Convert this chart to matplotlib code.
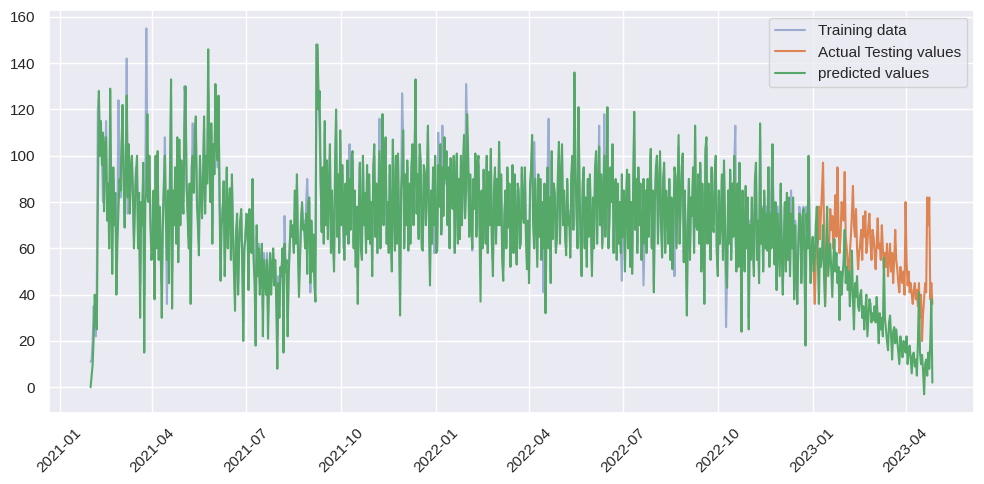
import matplotlib
matplotlib.use("Agg")
import matplotlib.pyplot as plt
import matplotlib.dates as mdates
import seaborn as sns
import pandas as pd

train_start = "2021-01-31"
test_start = "2023-01-01"

training_values = [
    11, 12, 20, 35, 28, 22, 42, 120, 125, 105,
    112, 100, 80, 108, 95, 115, 78, 82, 70, 118,
    85, 55, 90, 75, 80, 60, 72, 124, 95, 82,
    100, 115, 92, 75, 90, 142, 75, 100, 80, 90,
    98, 80, 65, 85, 95, 92, 65, 80, 45, 75,
    78, 90, 40, 85, 155, 105, 85, 95, 75, 60,
    65, 80, 50, 95, 65, 98, 60, 75, 55, 45,
    75, 85, 108, 70, 36, 80, 55, 95, 125, 50,
    80, 75, 90, 65, 105, 60, 100, 75, 95, 85,
    80, 130, 125, 85, 78, 65, 85, 50, 90, 114,
    88, 105, 112, 85, 75, 62, 95, 88, 78, 92,
    112, 80, 98, 90, 128, 105, 85, 110, 70, 100,
    95, 125, 110, 95, 120, 85, 55, 75, 78, 85,
    55, 72, 90, 65, 80, 82, 60, 88, 70, 55,
    40, 68, 72, 45, 62, 70, 75, 58, 28, 58,
    66, 72, 70, 48, 75, 65, 60, 85, 58, 50,
    30, 65, 52, 62, 45, 55, 60, 35, 58, 50,
    45, 58, 32, 48, 55, 45, 50, 58, 48, 52,
    40, 22, 48, 35, 50, 50, 58, 25, 74, 52,
    52, 30, 50, 62, 70, 68, 68, 60, 82, 65,
    88, 62, 45, 58, 70, 78, 70, 72, 62, 80,
    90, 75, 80, 41, 70, 55, 64, 48, 60, 148,
    145, 125, 110, 88, 70, 92, 68, 110, 72, 95,
    68, 85, 100, 62, 82, 65, 55, 92, 115, 70,
    88, 62, 106, 75, 92, 60, 60, 85, 70, 95,
    65, 105, 70, 95, 98, 62, 82, 58, 75, 45,
    75, 95, 62, 60, 98, 72, 82, 62, 92, 66,
    88, 65, 78, 55, 92, 100, 68, 85, 58, 82,
    116, 62, 82, 112, 72, 92, 104, 65, 78, 62,
    92, 70, 55, 104, 82, 62, 96, 65, 98, 72,
    40, 82, 127, 108, 62, 90, 72, 95, 62, 85,
    65, 92, 102, 72, 95, 128, 78, 90, 66, 100,
    95, 62, 62, 92, 90, 72, 85, 110, 75, 50,
    82, 65, 92, 58, 96, 60, 62, 110, 80, 102,
    68, 113, 76, 104, 88, 100, 72, 92, 62, 96,
    82, 80, 98, 60, 86, 98, 65, 88, 66, 96,
    72, 92, 106, 75, 131, 112, 98, 68, 90, 72,
    59, 88, 80, 98, 68, 92, 96, 72, 60, 82,
    62, 92, 82, 64, 96, 60, 90, 72, 100, 64,
    55, 82, 92, 64, 88, 72, 102, 72, 90, 58,
    52, 75, 82, 62, 92, 72, 85, 55, 72, 92,
    62, 90, 72, 56, 85, 82, 62, 64, 92, 78,
    73, 92, 68, 55, 70, 50, 85, 92, 104, 72,
    106, 88, 72, 55, 90, 68, 88, 58, 78, 41,
    85, 45, 72, 92, 116, 80, 50, 98, 66, 85,
    82, 60, 66, 90, 102, 65, 88, 100, 72, 82,
    68, 60, 88, 72, 76, 60, 90, 96, 70, 128,
    92, 78, 62, 116, 82, 65, 52, 85, 92, 62,
    80, 56, 88, 68, 90, 70, 52, 80, 62, 92,
    98, 65, 86, 113, 72, 90, 62, 78, 118, 68,
    86, 115, 62, 75, 92, 82, 100, 60, 82, 88,
    58, 85, 65, 78, 60, 46, 68, 82, 55, 78,
    90, 62, 88, 56, 78, 52, 85, 115, 70, 88,
    62, 92, 72, 85, 58, 66, 44, 64, 82, 60,
    88, 68, 85, 100, 62, 82, 45, 78, 92, 96,
    65, 82, 98, 72, 60, 88, 94, 60, 82, 78,
    65, 88, 58, 80, 55, 72, 48, 88, 62, 82,
    104, 65, 78, 92, 98, 58, 82, 62, 38, 72,
    88, 58, 80, 76, 92, 60, 108, 72, 70, 88,
    65, 94, 55, 85, 68, 42, 100, 104, 65, 85,
    80, 58, 92, 72, 70, 88, 97, 60, 52, 82,
    65, 75, 90, 58, 95, 72, 26, 48, 82, 65,
    92, 58, 85, 68, 97, 113, 52, 85, 55, 94,
    72, 32, 82, 72, 52, 84, 62, 80, 30, 72,
    58, 80, 62, 52, 88, 94, 58, 70, 48, 108,
    65, 78, 52, 82, 62, 78, 62, 92, 95, 72,
    62, 102, 72, 56, 78, 45, 78, 65, 52, 85,
    62, 44, 65, 78, 52, 82, 58, 80, 50, 85,
    62, 80, 42, 72, 52, 36, 62, 78, 76, 48,
    72, 78, 58, 25, 78, 62, 96, 65, 50, 62,
]

testing_values = [
    64, 50, 36, 55, 71, 62, 78, 64, 75, 85,
    97, 70, 36, 50, 65, 58, 62, 77, 68, 74,
    60, 70, 83, 65, 95, 70, 58, 65, 80, 77,
    72, 93, 65, 60, 54, 46, 58, 65, 75, 87,
    70, 65, 77, 60, 51, 58, 62, 68, 55, 74,
    65, 76, 58, 62, 70, 75, 62, 55, 68, 65,
    58, 51, 62, 73, 60, 62, 55, 70, 60, 51,
    58, 52, 62, 48, 55, 62, 50, 58, 45, 55,
    68, 55, 51, 45, 41, 52, 48, 45, 50, 40,
    80, 55, 44, 50, 41, 45, 40, 36, 42, 45,
    38, 42, 35, 45, 30, 40, 20, 32, 38, 45,
    41, 82, 70, 82, 38, 45, 36,
]

predicted_values = [
    0, 5, 10, 22, 40, 30, 25, 75, 128, 100,
    115, 96, 110, 76, 105, 108, 72, 88, 60, 129,
    80, 49, 95, 70, 84, 40, 62, 77, 90, 85,
    105, 122, 88, 69, 95, 126, 82, 105, 75, 95,
    100, 85, 60, 78, 92, 100, 60, 84, 30, 80,
    70, 97, 15, 80, 84, 118, 80, 100, 70, 55,
    60, 85, 38, 100, 60, 102, 55, 78, 60, 30,
    70, 88, 100, 72, 55, 85, 45, 92, 133, 34,
    85, 70, 95, 62, 108, 54, 107, 70, 98, 82,
    75, 112, 130, 90, 75, 60, 88, 36, 95, 100,
    84, 110, 117, 80, 70, 57, 100, 85, 73, 90,
    117, 75, 100, 88, 146, 100, 80, 114, 62, 105,
    92, 131, 105, 98, 126, 80, 46, 70, 75, 89,
    48, 70, 95, 60, 78, 86, 55, 92, 66, 50,
    33, 65, 75, 40, 60, 72, 77, 55, 20, 60,
    64, 75, 74, 42, 77, 62, 58, 90, 55, 45,
    18, 70, 48, 60, 40, 50, 62, 22, 55, 48,
    40, 55, 21, 45, 58, 40, 52, 60, 44, 55,
    36, 8, 45, 30, 52, 48, 60, 15, 62, 50,
    55, 22, 48, 60, 72, 65, 70, 58, 85, 62,
    92, 60, 39, 55, 72, 80, 68, 70, 60, 75,
    49, 80, 82, 45, 72, 50, 66, 44, 37, 148,
    148, 120, 128, 90, 67, 95, 62, 115, 70, 98,
    64, 88, 105, 58, 85, 62, 50, 96, 120, 65,
    92, 58, 111, 70, 96, 74, 55, 88, 66, 98,
    62, 90, 68, 100, 102, 60, 85, 52, 78, 36,
    78, 97, 60, 55, 100, 70, 84, 58, 96, 64,
    92, 62, 80, 48, 95, 105, 65, 88, 58, 80,
    102, 60, 85, 118, 70, 95, 108, 62, 80, 58,
    96, 68, 50, 107, 80, 59, 100, 62, 101, 70,
    31, 85, 92, 111, 60, 92, 70, 98, 59, 88,
    62, 95, 105, 70, 98, 133, 75, 92, 64, 105,
    98, 60, 59, 96, 93, 70, 88, 113, 72, 44,
    85, 62, 95, 70, 100, 58, 59, 96, 78, 105,
    66, 95, 74, 108, 90, 102, 70, 95, 60, 99,
    85, 77, 100, 58, 88, 101, 62, 90, 64, 100,
    70, 95, 109, 73, 85, 118, 100, 65, 92, 70,
    60, 90, 77, 101, 65, 96, 100, 70, 37, 85,
    60, 94, 80, 62, 100, 58, 93, 70, 103, 62,
    48, 85, 95, 62, 90, 70, 106, 70, 92, 55,
    46, 72, 85, 60, 95, 69, 88, 52, 70, 96,
    58, 92, 70, 53, 88, 85, 60, 62, 95, 75,
    71, 95, 65, 51, 72, 45, 88, 95, 109, 70,
    60, 90, 70, 52, 92, 65, 90, 55, 80, 60,
    88, 32, 70, 95, 60, 82, 45, 102, 64, 88,
    84, 58, 64, 92, 106, 62, 90, 105, 70, 85,
    65, 57, 90, 70, 74, 56, 92, 100, 68, 136,
    95, 76, 60, 121, 85, 62, 48, 88, 95, 60,
    82, 52, 90, 65, 92, 69, 48, 82, 60, 95,
    102, 62, 88, 104, 70, 92, 60, 80, 100, 65,
    88, 121, 60, 72, 95, 80, 105, 58, 85, 90,
    55, 88, 62, 80, 58, 92, 65, 85, 50, 80,
    94, 60, 92, 52, 80, 49, 88, 119, 68, 90,
    58, 95, 70, 88, 55, 64, 90, 62, 85, 58,
    90, 65, 88, 103, 60, 85, 41, 80, 95, 100,
    62, 85, 102, 70, 56, 90, 97, 58, 85, 77,
    62, 90, 55, 82, 51, 70, 95, 91, 60, 85,
    109, 62, 80, 95, 101, 54, 85, 60, 31, 70,
    90, 55, 82, 74, 95, 58, 113, 70, 68, 92,
    62, 97, 50, 88, 65, 36, 103, 108, 62, 88,
    82, 55, 95, 70, 67, 92, 100, 58, 48, 85,
    62, 72, 92, 55, 98, 70, 50, 43, 85, 62,
    94, 55, 88, 65, 100, 70, 50, 88, 52, 97,
    70, 24, 85, 69, 50, 87, 60, 82, 25, 70,
    55, 82, 60, 48, 90, 97, 55, 72, 45, 114,
    62, 77, 50, 85, 60, 75, 59, 95, 52, 75,
    60, 105, 70, 53, 80, 42, 75, 62, 48, 88,
    60, 40, 63, 80, 50, 84, 55, 82, 48, 75,
    60, 82, 38, 70, 50, 36, 60, 75, 74, 45,
    70, 77, 55, 18, 75, 60, 100, 62, 45, 60,
    65, 50, 56, 70, 78, 55, 36, 60, 52, 58,
    70, 48, 35, 60, 78, 48, 55, 62, 50, 39,
    55, 64, 50, 58, 45, 52, 29, 50, 40, 48,
    55, 68, 45, 52, 42, 50, 35, 45, 59, 38,
    25, 45, 39, 48, 35, 33, 40, 42, 30, 35,
    25, 33, 40, 22, 30, 38, 36, 28, 32, 29,
    35, 28, 39, 30, 19, 32, 25, 30, 22, 56,
    30, 25, 20, 16, 28, 31, 22, 12, 24, 26,
    19, 25, 20, 15, 10, 22, 18, 13, 20, 19,
    15, 22, 10, 16, 18, 12, 6, 14, 15, 9,
    12, 5, 20, 41, 15, 10, 14, 7, -3, 10,
    12, 5, 15, 8, 20, 38, 2,
]

train_dates = pd.date_range(train_start, periods=len(training_values), freq="D")
test_dates = pd.date_range(test_start, periods=len(testing_values), freq="D")
pred_dates = pd.date_range(train_start, periods=len(predicted_values), freq="D")

sns.set_theme()
plt.rcParams['font.family'] = ['Liberation Sans', 'DejaVu Sans']

fig = plt.figure(figsize=(9.84, 4.84), dpi=100)
ax = fig.add_axes([0.0493, 0.1477, 0.9410, 0.8313])

ax.plot(train_dates, training_values, color="#4C72B0", alpha=0.5, lw=1.5, label="Training data")
ax.plot(test_dates, testing_values, color="#DD8452", lw=1.5, label="Actual Testing values")
ax.plot(pred_dates, predicted_values, color="#55A868", lw=1.5, label="predicted values")

ax.xaxis.set_major_locator(mdates.MonthLocator(bymonth=[1, 4, 7, 10]))
ax.xaxis.set_major_formatter(mdates.DateFormatter("%Y-%m"))
plt.setp(ax.get_xticklabels(), rotation=45)
ax.set_yticks([0, 20, 40, 60, 80, 100, 120, 140, 160])
ax.legend(loc="upper right")

fig.savefig("out.png", dpi=100)
